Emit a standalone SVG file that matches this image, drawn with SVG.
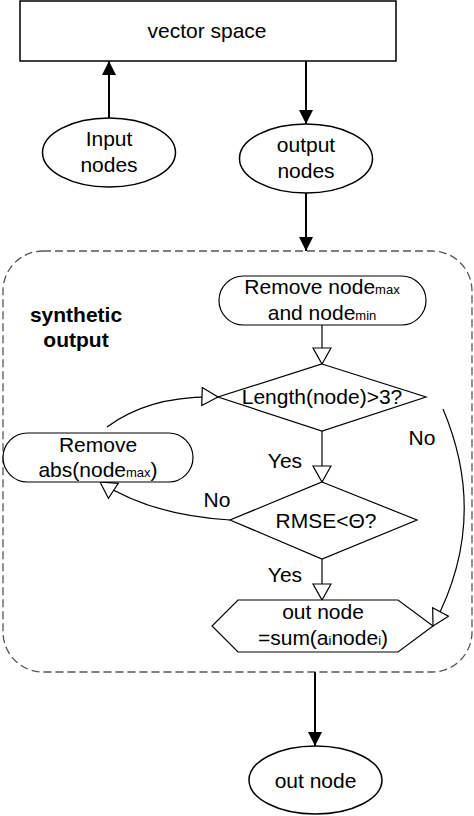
<svg xmlns="http://www.w3.org/2000/svg" width="474" height="816" viewBox="0 0 474 816">
<defs>
<style>
.t{font-family:"Liberation Sans",Arial,sans-serif;font-size:21px;fill:#000;text-anchor:middle}
.b{font-weight:bold}
.s{font-size:13px}
.sh{fill:#fff;stroke:#000;stroke-width:1.5}
.fl{fill:#fff;stroke:#000;stroke-width:1.2}
.c1{fill:none;stroke:#000;stroke-width:2}
.c2{fill:none;stroke:#000;stroke-width:1.2}
</style>
<marker id="fa" markerUnits="userSpaceOnUse" markerWidth="14" markerHeight="14" refX="14" refY="7" orient="auto"><path d="M0,0 L14,7 L0,14 z" fill="#000"/></marker>
<marker id="oa" markerUnits="userSpaceOnUse" markerWidth="19" markerHeight="21" refX="17" refY="10" orient="auto"><path d="M1,1 L17,10 L1,19 z" fill="#fff" stroke="#000" stroke-width="1.2"/></marker>
</defs>
<g id="container">
<rect x="3" y="251" width="469" height="421" rx="40" fill="none" stroke="#555" stroke-width="1.3" stroke-dasharray="8,4"/>
<text class="t b" x="76" y="322">synthetic</text>
<text class="t b" x="76" y="347">output</text>
</g>
<g id="connectors">
<path class="c1" d="M109,118 L109,61" marker-end="url(#fa)"/>
<path class="c1" d="M306,61 L306,124" marker-end="url(#fa)"/>
<path class="c1" d="M306,193 L306,251" marker-end="url(#fa)"/>
<path class="c1" d="M315,672 L315,746" marker-end="url(#fa)"/>
<path class="c2" d="M322,325 L322,364" marker-end="url(#oa)"/>
<path class="c2" d="M322,431 L322,482" marker-end="url(#oa)"/>
<path class="c2" d="M322,559 L322,600" marker-end="url(#oa)"/>
<path class="c2" d="M107,427 Q150,395 218,397" marker-end="url(#oa)"/>
<path class="c2" d="M230,520 Q150,515 100,482" marker-end="url(#oa)"/>
<path class="c2" d="M443,409 Q490,520 433,626" marker-end="url(#oa)"/>
<text class="t" x="285" y="468">Yes</text>
<text class="t" x="285" y="582">Yes</text>
<text class="t" x="217" y="507">No</text>
<text class="t" x="422" y="445">No</text>
</g>
<g id="vector-space">
<rect class="sh" x="20" y="1" width="376" height="60"/>
<text class="t" x="207" y="38">vector space</text>
</g>
<g id="input-nodes">
<ellipse class="sh" cx="109" cy="152.5" rx="66.5" ry="34.5"/>
<text class="t" x="109" y="146">Input</text>
<text class="t" x="109" y="172">nodes</text>
</g>
<g id="output-nodes">
<ellipse class="sh" cx="306" cy="158.5" rx="66.5" ry="34.5"/>
<text class="t" x="306" y="152">output</text>
<text class="t" x="306" y="178">nodes</text>
</g>
<g id="remove-max-min">
<rect class="fl" x="219" y="276" width="207" height="49" rx="24.5"/>
<text class="t" x="322" y="294">Remove node<tspan class="s">max</tspan></text>
<text class="t" x="322" y="320">and node<tspan class="s">min</tspan></text>
</g>
<g id="length-check">
<polygon class="fl" points="322,364 426,397 322,431 218,397"/>
<text class="t" x="322" y="404">Length(node)&gt;3?</text>
</g>
<g id="remove-abs">
<rect class="fl" x="3" y="433" width="190" height="49" rx="24.5"/>
<text class="t" x="98" y="452">Remove</text>
<text class="t" x="98" y="477">abs(node<tspan class="s">max</tspan>)</text>
</g>
<g id="rmse-check">
<polygon class="fl" points="322,482 417,520 322,559 230,520"/>
<text class="t" x="326" y="528">RMSE&lt;Θ?</text>
</g>
<g id="out-node-sum">
<polygon class="fl" points="238,600 398,600 433,626 398,652 238,652 212,626"/>
<text class="t" x="323" y="619">out node</text>
<text class="t" x="323" y="645">=sum(a<tspan class="s">i</tspan>node<tspan class="s">i</tspan>)</text>
</g>
<g id="out-node">
<ellipse class="sh" cx="315.5" cy="780" rx="66.5" ry="34"/>
<text class="t" x="315.5" y="788">out node</text>
</g>
</svg>
